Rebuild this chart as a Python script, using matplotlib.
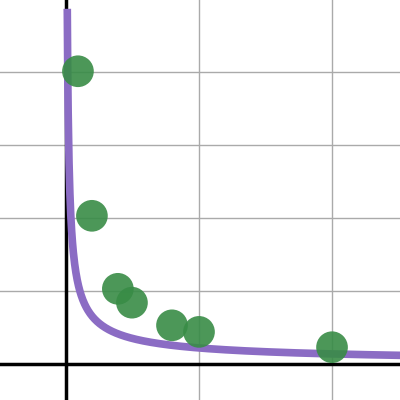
import matplotlib.pyplot as plt
import numpy as np

# data points
xs = [0.09, 0.195, 0.39, 0.496, 0.797, 1.0, 2.0]
ys = [4.01, 2.03, 1.03, 0.84, 0.53, 0.44, 0.23]

# fitted power curve y = a * x^-b
a, b = 0.22, 0.67

fig = plt.figure(figsize=(4, 4), dpi=100)
ax = fig.add_axes([0, 0, 1, 1])
ax.set_xlim(-0.496, 2.511)
ax.set_ylim(-0.493, 4.986)

for gx in [1, 2]:
    ax.axvline(gx, color='#aaaaaa', lw=1, zorder=0)
for gy in [1, 2, 3, 4]:
    ax.axhline(gy, color='#aaaaaa', lw=1, zorder=0)
ax.axhline(0, color='black', lw=2.5, zorder=1)
ax.axvline(0, color='black', lw=2.5, zorder=1)

cx = np.linspace(0.01, 2.6, 800)
ax.plot(cx, a * cx ** -b, color='#8b6cc4', lw=5.5, zorder=2)
ax.scatter(xs, ys, s=520, color='#388c46', alpha=0.9, edgecolors='none', zorder=3)

ax.set_xticks([])
ax.set_yticks([])
for s in ax.spines.values():
    s.set_visible(False)

fig.savefig('out.png', dpi=100)
